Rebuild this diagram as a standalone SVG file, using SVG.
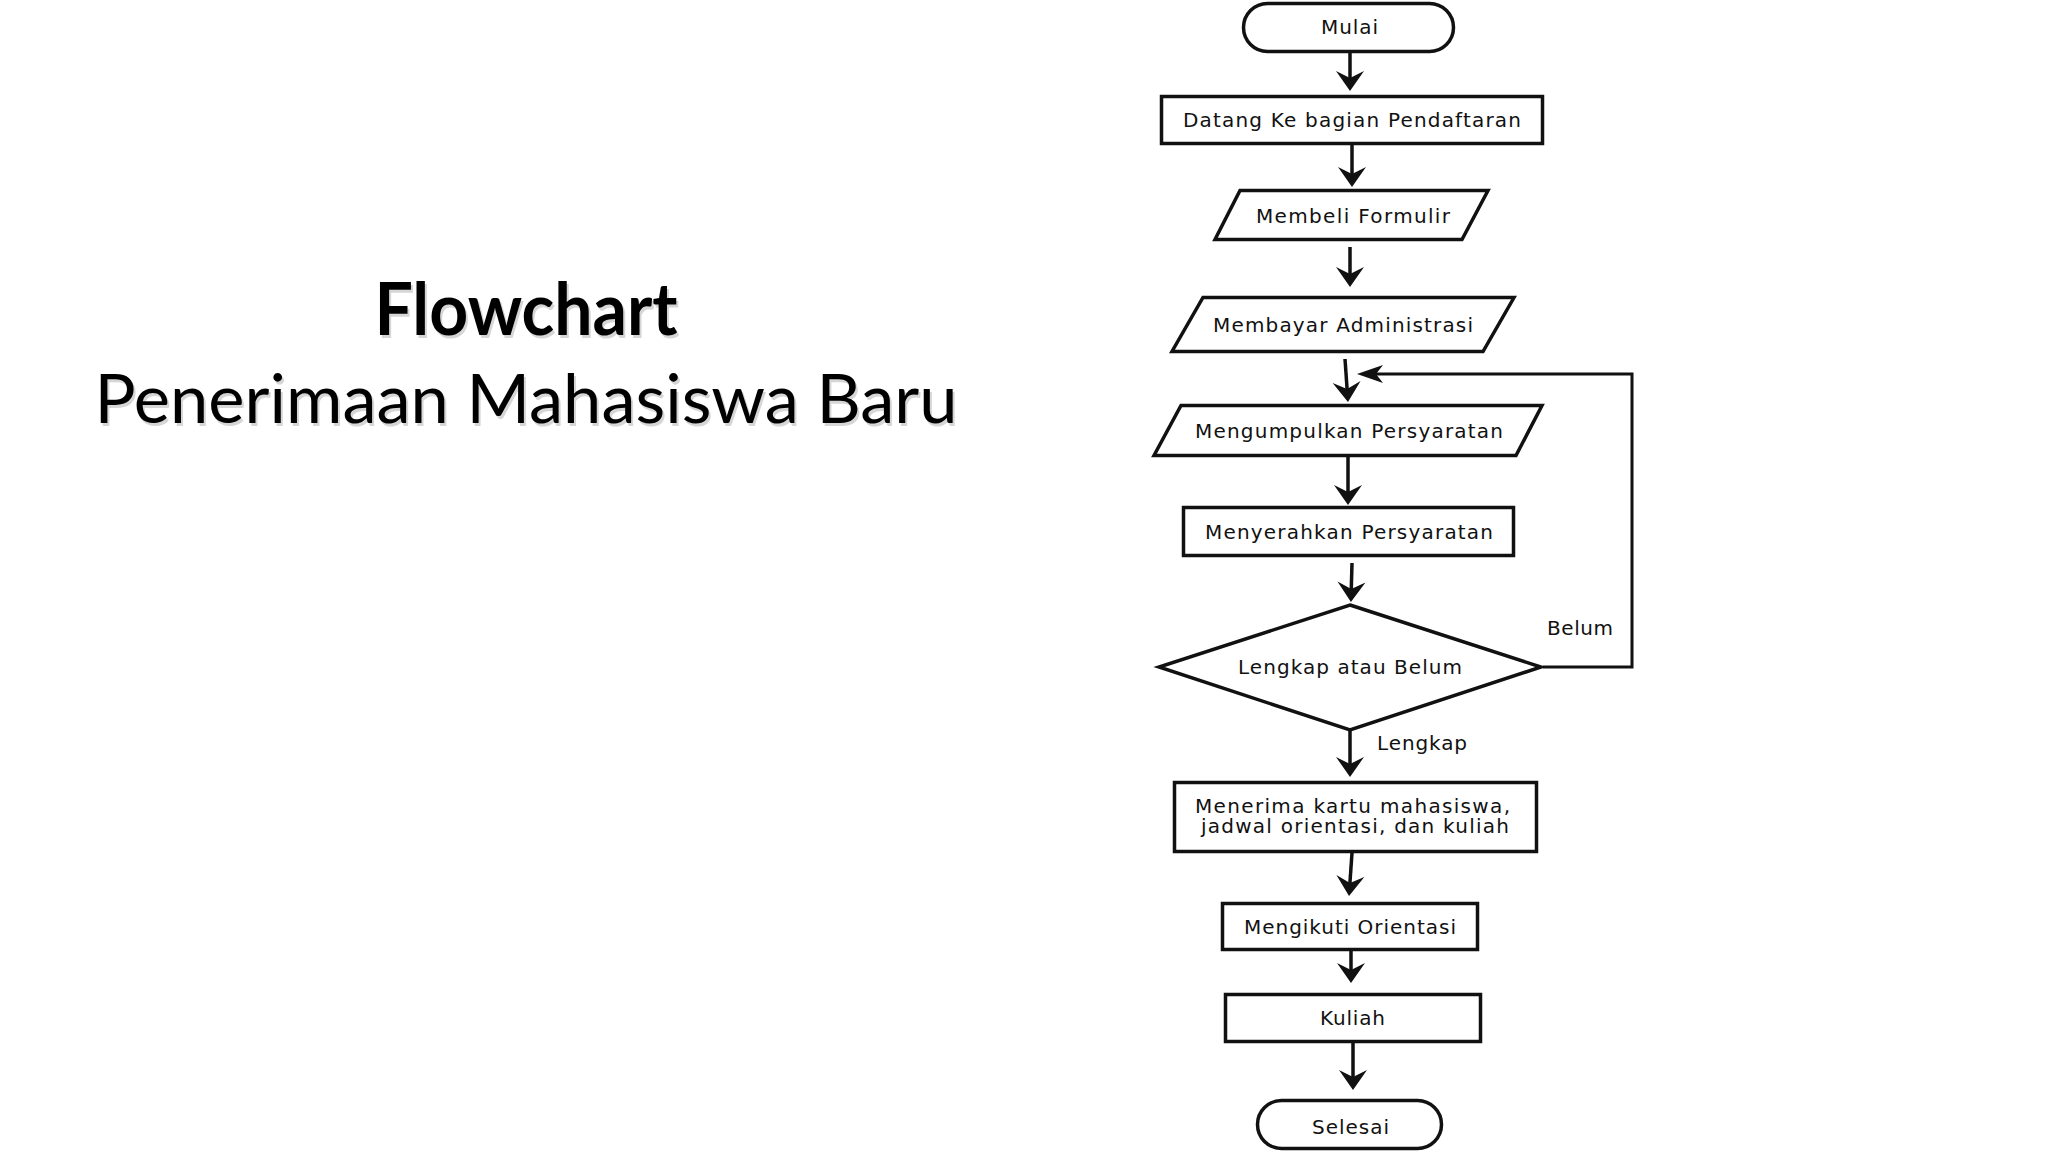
<svg xmlns="http://www.w3.org/2000/svg" width="2048" height="1152" viewBox="0 0 2048 1152">
<style>
.shape{fill:#fff;stroke:#111;stroke-width:3.5}
.lbl{font-family:"DejaVu Sans",Verdana,sans-serif;font-size:20px;fill:#111;text-anchor:middle}
.edge{fill:none;stroke:#111;stroke-width:3.5}
.loop{fill:none;stroke:#111;stroke-width:3}
.t1{font-family:Lato,"Open Sans",sans-serif;font-weight:bold;font-size:73px;text-anchor:middle}
.t2{font-family:Lato,"Open Sans",sans-serif;font-size:67px;text-anchor:middle}
</style>
<defs>
<marker id="ah" markerUnits="userSpaceOnUse" markerWidth="32" markerHeight="32" viewBox="-12 -16 24 32" refX="0" refY="0" orient="auto">
<path d="M10,0 L-10,-14 L-3,0 L-10,14 Z" fill="#111"/>
</marker>
<marker id="ah2" markerUnits="userSpaceOnUse" markerWidth="32" markerHeight="22" viewBox="-16 -11 32 22" refX="0" refY="0" orient="auto">
<path d="M12,0 L-14,-9 L-7,0 L-14,9 Z" fill="#111"/>
</marker>
</defs>
<rect width="2048" height="1152" fill="#fff"/>

<g id="title">
<text class="t1" x="528" y="338" fill="#bbb" opacity="0.6" textLength="303" lengthAdjust="spacingAndGlyphs">Flowchart</text>
<text class="t1" x="526" y="335" fill="#000" textLength="303" lengthAdjust="spacingAndGlyphs">Flowchart</text>
<text class="t2" x="528" y="426" fill="#bbb" opacity="0.6" textLength="863" lengthAdjust="spacingAndGlyphs">Penerimaan Mahasiswa Baru</text>
<text class="t2" x="526" y="423" fill="#000" textLength="863" lengthAdjust="spacingAndGlyphs">Penerimaan Mahasiswa Baru</text>
</g>

<g id="connectors">
<line class="edge" x1="1350" y1="53" x2="1350" y2="81" marker-end="url(#ah)"/>
<line class="edge" x1="1352" y1="145" x2="1352" y2="177" marker-end="url(#ah)"/>
<line class="edge" x1="1350" y1="247" x2="1350" y2="277" marker-end="url(#ah)"/>
<line class="edge" x1="1345" y1="359" x2="1347.3" y2="392" marker-end="url(#ah)"/>
<line class="edge" x1="1348" y1="457" x2="1348" y2="495" marker-end="url(#ah)"/>
<line class="edge" x1="1352" y1="563" x2="1351.2" y2="592" marker-end="url(#ah)"/>
<line class="edge" x1="1350" y1="731" x2="1350" y2="767" marker-end="url(#ah)"/>
<line class="edge" x1="1352" y1="853" x2="1349.7" y2="886" marker-end="url(#ah)"/>
<line class="edge" x1="1351" y1="951" x2="1351" y2="973" marker-end="url(#ah)"/>
<line class="edge" x1="1353" y1="1043" x2="1353" y2="1080" marker-end="url(#ah)"/>
<path class="loop" d="M1543,667 L1632,667 L1632,374 L1369,374" marker-end="url(#ah2)"/>
<text class="lbl" x="1580" y="635" textLength="66">Belum</text>
<text class="lbl" x="1422" y="750" textLength="90">Lengkap</text>
</g>

<g id="mulai">
<rect class="shape" x="1243.5" y="3.5" width="210" height="48" rx="24"/>
<text class="lbl" x="1349.5" y="34" textLength="57">Mulai</text>
</g>
<g id="datang">
<rect class="shape" x="1161.5" y="96.5" width="381" height="47"/>
<text class="lbl" x="1352" y="127" textLength="338">Datang Ke bagian Pendaftaran</text>
</g>
<g id="membeli">
<polygon class="shape" points="1240,190.5 1488,190.5 1462,239.5 1215,239.5"/>
<text class="lbl" x="1353" y="223" textLength="194">Membeli Formulir</text>
</g>
<g id="membayar">
<polygon class="shape" points="1203,297.5 1514,297.5 1483,351.5 1172,351.5"/>
<text class="lbl" x="1343" y="332" textLength="260">Membayar Administrasi</text>
</g>
<g id="mengumpulkan">
<polygon class="shape" points="1181,405.5 1542,405.5 1516,455.5 1154,455.5"/>
<text class="lbl" x="1349" y="438" textLength="308">Mengumpulkan Persyaratan</text>
</g>
<g id="menyerahkan">
<rect class="shape" x="1183.5" y="507.5" width="330" height="48"/>
<text class="lbl" x="1349" y="539" textLength="288">Menyerahkan Persyaratan</text>
</g>
<g id="lengkap">
<polygon class="shape" points="1350,605 1541,667 1350,730 1159,667"/>
<text class="lbl" x="1350" y="674" textLength="224">Lengkap atau Belum</text>
</g>
<g id="menerima">
<rect class="shape" x="1174.5" y="782.5" width="362" height="69"/>
<text class="lbl" x="1352.5" y="813" textLength="315">Menerima kartu mahasiswa,</text>
<text class="lbl" x="1355" y="833" textLength="308">jadwal orientasi, dan kuliah</text>
</g>
<g id="mengikuti">
<rect class="shape" x="1222.5" y="903.5" width="255" height="46"/>
<text class="lbl" x="1350" y="934" textLength="212">Mengikuti Orientasi</text>
</g>
<g id="kuliah">
<rect class="shape" x="1225.5" y="994.5" width="255" height="47"/>
<text class="lbl" x="1352.5" y="1025" textLength="65">Kuliah</text>
</g>
<g id="selesai">
<rect class="shape" x="1257.5" y="1100.5" width="184" height="48" rx="24"/>
<text class="lbl" x="1350.5" y="1134" textLength="77">Selesai</text>
</g>
</svg>
